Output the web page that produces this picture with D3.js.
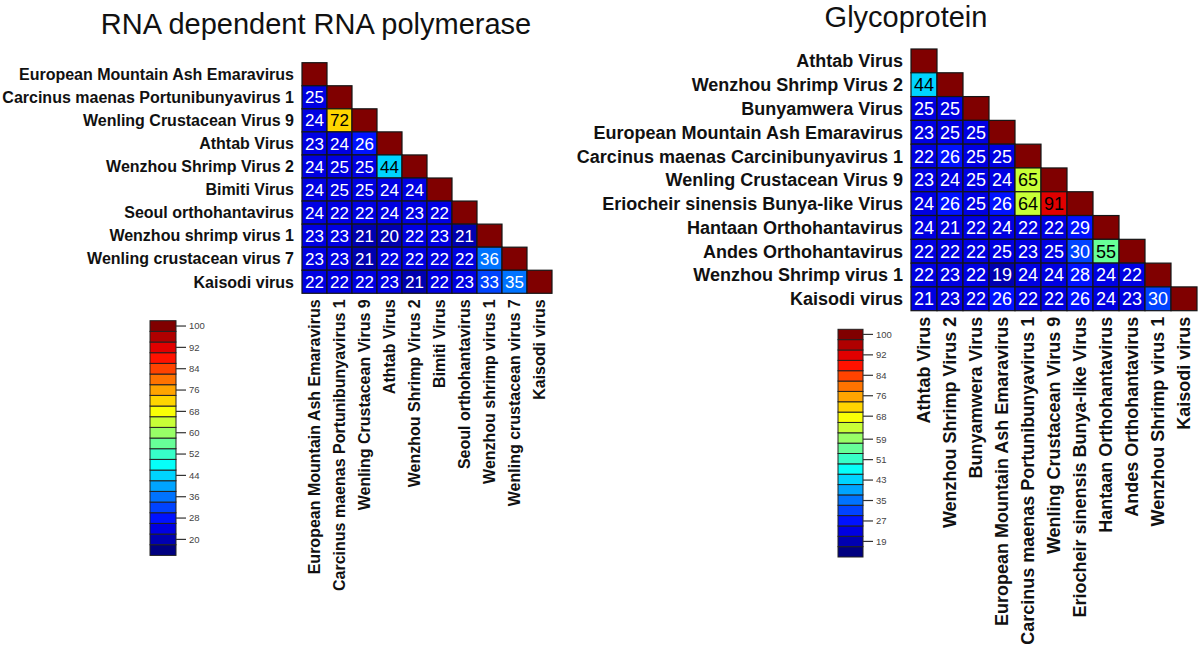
<!DOCTYPE html>
<html>
<head>
<meta charset="utf-8">
<script src="https://cdn.jsdelivr.net/npm/d3@7"></script>
<style>
  body { margin: 0; background: #fff; }
  text { font-family: Arial, "Liberation Sans", sans-serif; }
</style>
</head>
<body>
<svg id="chart" width="1200" height="650"></svg>
<script>
// RNA dependent RNA polymerase identity matrix (lower triangle, row by row)
var rdrpNames = [
  "European Mountain Ash Emaravirus",
  "Carcinus maenas Portunibunyavirus 1",
  "Wenling Crustacean Virus 9",
  "Athtab Virus",
  "Wenzhou Shrimp Virus 2",
  "Bimiti Virus",
  "Seoul orthohantavirus",
  "Wenzhou shrimp virus 1",
  "Wenling crustacean virus 7",
  "Kaisodi virus"
];
var rdrpValues = [
  [],
  [25],
  [24, 72],
  [23, 24, 26],
  [24, 25, 25, 44],
  [24, 25, 25, 24, 24],
  [24, 22, 22, 24, 23, 22],
  [23, 23, 21, 20, 22, 23, 21],
  [23, 23, 21, 22, 22, 22, 22, 36],
  [22, 22, 22, 23, 21, 22, 23, 33, 35]
];
var rdrpTicks = [100, 92, 84, 76, 68, 60, 52, 44, 36, 28, 20];

// Glycoprotein identity matrix
var glycoRowNames = [
  "Athtab Virus",
  "Wenzhou Shrimp Virus 2",
  "Bunyamwera Virus",
  "European Mountain Ash Emaravirus",
  "Carcinus maenas Carcinibunyavirus 1",
  "Wenling Crustacean Virus 9",
  "Eriocheir sinensis Bunya-like Virus",
  "Hantaan Orthohantavirus",
  "Andes Orthohantavirus",
  "Wenzhou Shrimp virus 1",
  "Kaisodi virus"
];
var glycoColNames = [
  "Athtab Virus",
  "Wenzhou Shrimp Virus 2",
  "Bunyamwera Virus",
  "European Mountain Ash Emaravirus",
  "Carcinus maenas Portunibunyavirus 1",
  "Wenling Crustacean Virus 9",
  "Eriocheir sinensis Bunya-like Virus",
  "Hantaan Orthohantavirus",
  "Andes Orthohantavirus",
  "Wenzhou Shrimp virus 1",
  "Kaisodi virus"
];
var glycoValues = [
  [],
  [44],
  [25, 25],
  [23, 25, 25],
  [22, 26, 25, 25],
  [23, 24, 25, 24, 65],
  [24, 26, 25, 26, 64, 91],
  [24, 21, 22, 24, 22, 22, 29],
  [22, 22, 22, 25, 23, 25, 30, 55],
  [22, 23, 22, 19, 24, 24, 28, 24, 22],
  [21, 23, 22, 26, 22, 22, 26, 24, 23, 30]
];
var glycoTicks = [100, 92, 84, 76, 68, 59, 51, 43, 35, 27, 19];

var diagonalValue = 100;

// matlab-style jet, 22 discrete levels
function jet(t) {
  function c(v) { return Math.max(0, Math.min(1, v)); }
  return d3.rgb(
    255 * c(1.5 - Math.abs(4 * t - 3)),
    255 * c(1.5 - Math.abs(4 * t - 2)),
    255 * c(1.5 - Math.abs(4 * t - 1))
  ).formatHex();
}
var nLevels = 22;
var jetColors = d3.range(nLevels).map(function(k) { return jet(k / (nLevels - 1)); });

var svg = d3.select("#chart");

function drawMatrix(opt) {
  var g = svg.append("g");
  var n = opt.rows.length;

  var x = d3.scaleBand().domain(d3.range(n)).range(opt.xRange);
  var y = d3.scaleBand().domain(d3.range(n)).range(opt.yRange);
  var color = d3.scaleQuantize().domain(opt.colorDomain).range(jetColors);

  // flatten lower triangle + diagonal into cells
  var cells = [];
  opt.values.forEach(function(row, i) {
    row.forEach(function(v, j) { cells.push({ i: i, j: j, v: v, diag: false }); });
    cells.push({ i: i, j: i, v: diagonalValue, diag: true });
  });

  g.append("text")
      .attr("x", opt.titleX)
      .attr("y", opt.titleY)
      .attr("text-anchor", "middle")
      .attr("font-size", 29)
      .attr("fill", "#111")
      .text(opt.title);

  var cell = g.selectAll("g.cell").data(cells).enter().append("g")
      .attr("class", "cell")
      .attr("transform", function(d) { return "translate(" + x(d.j) + "," + y(d.i) + ")"; });

  cell.append("rect")
      .attr("width", x.bandwidth())
      .attr("height", y.bandwidth())
      .attr("fill", function(d) { return color(d.v); })
      .attr("stroke", "#151515")
      .attr("stroke-width", 1.2);

  cell.filter(function(d) { return !d.diag; }).append("text")
      .attr("x", x.bandwidth() / 2)
      .attr("y", y.bandwidth() / 2)
      .attr("dy", "0.36em")
      .attr("text-anchor", "middle")
      .attr("font-size", opt.numSize)
      .attr("fill", function(d) {
        var c = d3.rgb(color(d.v));
        return (c.r > 128 || c.g > 128) ? "#000" : "#fff";
      })
      .text(function(d) { return d.v; });

  // row labels
  g.selectAll("text.row").data(opt.rows).enter().append("text")
      .attr("class", "row")
      .attr("x", opt.xRange[0] - 8)
      .attr("y", function(d, i) { return y(i) + y.bandwidth() / 2; })
      .attr("dy", "0.36em")
      .attr("text-anchor", "end")
      .attr("font-weight", "bold")
      .attr("font-size", opt.labelSize)
      .attr("fill", "#111")
      .text(function(d) { return d; });

  // column labels, rotated
  g.selectAll("text.col").data(opt.cols).enter().append("text")
      .attr("class", "col")
      .attr("transform", function(d, i) {
        return "translate(" + (x(i) + x.bandwidth() / 2) + "," + (opt.yRange[1] + 6) + ") rotate(-90)";
      })
      .attr("dy", "0.36em")
      .attr("text-anchor", "end")
      .attr("font-weight", "bold")
      .attr("font-size", opt.labelSize)
      .attr("fill", "#111")
      .text(function(d) { return d; });

  // colour bar
  var lg = g.append("g").attr("transform", "translate(" + opt.legendX + ",0)");
  var ly = d3.scaleLinear().domain(opt.colorDomain).range([opt.legendY[1], opt.legendY[0]]);
  var step = (opt.colorDomain[1] - opt.colorDomain[0]) / nLevels;

  lg.selectAll("rect").data(jetColors).enter().append("rect")
      .attr("x", 0)
      .attr("y", function(d, k) { return ly(opt.colorDomain[0] + (k + 1) * step); })
      .attr("width", opt.legendW)
      .attr("height", function(d, k) { return ly(opt.colorDomain[0] + k * step) - ly(opt.colorDomain[0] + (k + 1) * step); })
      .attr("fill", function(d) { return d; })
      .attr("stroke", "#222")
      .attr("stroke-width", 1);

  var tick = lg.selectAll("g.tick").data(opt.ticks).enter().append("g")
      .attr("class", "tick")
      .attr("transform", function(d) { return "translate(" + opt.legendW + "," + ly(d) + ")"; });

  tick.append("line")
      .attr("x2", 10)
      .attr("stroke", "#333")
      .attr("stroke-width", 1.2);

  tick.append("text")
      .attr("x", 13)
      .attr("dy", "0.35em")
      .attr("font-size", 9.5)
      .attr("fill", "#444")
      .text(function(d) { return d; });
}

drawMatrix({
  title: "RNA dependent RNA polymerase",
  titleX: 316, titleY: 34,
  rows: rdrpNames, cols: rdrpNames, values: rdrpValues,
  xRange: [302, 552], yRange: [62.7, 293.3],
  colorDomain: [14, 102],
  labelSize: 16, numSize: 17,
  legendX: 150, legendW: 26, legendY: [320.7, 555.4],
  ticks: rdrpTicks
});

drawMatrix({
  title: "Glycoprotein",
  titleX: 906, titleY: 27,
  rows: glycoRowNames, cols: glycoColNames, values: glycoValues,
  xRange: [911, 1197], yRange: [49, 310.7],
  colorDomain: [12.9, 102],
  labelSize: 18, numSize: 18,
  legendX: 838, legendW: 25, legendY: [329.3, 557],
  ticks: glycoTicks
});
</script>
</body>
</html>
